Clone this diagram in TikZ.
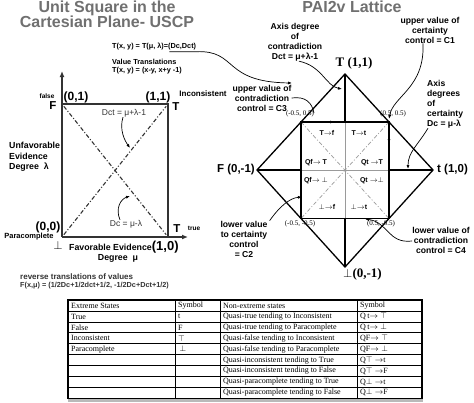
\documentclass[tikz,border=0pt]{standalone}
\usepackage{fontspec}
\setmainfont{Liberation Serif}
\setsansfont{Liberation Sans}
\usetikzlibrary{arrows.meta}
\definecolor{titlegray}{HTML}{707070}
\definecolor{sqline}{HTML}{333333}
\definecolor{ingray}{HTML}{9A9A9A}
\tikzset{
  ttl/.style={font=\sffamily\bfseries\fontsize{16}{18}\selectfont,text=titlegray,inner sep=0pt},
  note/.style={font=\sffamily\bfseries\fontsize{8.6}{10}\selectfont,inner sep=0pt,align=center},
  side/.style={font=\sffamily\bfseries\fontsize{8.8}{10.5}\selectfont,inner sep=0pt},
  form/.style={font=\sffamily\bfseries\fontsize{7.3}{8}\selectfont,inner sep=0pt},
  small/.style={font=\sffamily\bfseries\fontsize{6.5}{7}\selectfont,inner sep=0pt},
  mid/.style={font=\sffamily\fontsize{8.5}{9}\selectfont,text=sqline,inner sep=0pt},
  crd/.style={font=\sffamily\bfseries\fontsize{12}{12}\selectfont,inner sep=0pt},
  vert/.style={font=\sffamily\bfseries\fontsize{11.5}{12}\selectfont,inner sep=0pt},
  vertr/.style={font=\rmfamily\bfseries\fontsize{13}{13}\selectfont,inner sep=0pt},
  corner/.style={font=\rmfamily\fontsize{7}{7}\selectfont,inner sep=0pt},
  inlab/.style={font=\sffamily\bfseries\fontsize{7}{7}\selectfont,inner sep=0pt},
  cell/.style={font=\rmfamily\fontsize{8}{8}\selectfont,inner sep=0pt,anchor=west},
  axis/.style={line width=1.6pt,draw=sqline,-{Latex[length=6pt,width=5pt]}},
  sq/.style={line width=1.6pt,draw=sqline},
  dd/.style={line width=1.1pt,draw=sqline,dash pattern=on 4pt off 2pt on 1pt off 2pt,shorten <=3pt,shorten >=3pt},
  lat/.style={line width=1.3pt},
  inl/.style={line width=0.8pt,draw=ingray},
  ddg/.style={line width=0.7pt,draw=ingray,dash pattern=on 4pt off 2pt on 1pt off 2pt},
  callout/.style={line width=0.7pt,-{Latex[length=4pt,width=3pt]}},
  tabin/.style={line width=0.6pt},
  tabout/.style={line width=1.1pt}
}

\begin{document}
\begin{tikzpicture}[x=1pt,y=-1pt]
\useasboundingbox (0,0) rectangle (474,402);
% Titles
\node[ttl,anchor=base] (tl1) at (107,12.5) {Unit Square in the};
\node[ttl,anchor=base] (tl2) at (107,27.5) {Cartesian Plane- USCP};
\node[ttl,anchor=base] (tr1) at (352,12.5) {PAI2v Lattice};

% Unit square
\coordinate (o) at (62,237);
\coordinate (s01) at (62,104);
\coordinate (s11) at (168,104);
\coordinate (s10) at (168,237);
\coordinate (ytip) at (62,71);
\coordinate (xtip) at (188,237);
\draw[axis] (o) -- (ytip);
\draw[axis] (o) -- (xtip);
\draw[sq] (s01) -- (s11) -- (s10);
\draw[dd] (s01) -- (s10);
\draw[dd] (o) -- (s11);

% Unit square labels
\node[small] (lfalse) at (47,96) {false};
\node[vert] (lF) at (53,106) {F};
\node[crd] (l01) at (76,97) {(0,1)};
\node[crd] (l11) at (158,97) {(1,1)};
\node[vert] (lT) at (176,107) {T};
\node[side,font=\sffamily\bfseries\fontsize{8}{8}\selectfont] (linc) at (203,94) {Inconsistent};
\node[mid] (ldct) at (124,113) {Dct = μ+λ-1};
\coordinate (dctend) at (130,148);
\draw[callout] ([xshift=-1pt]ldct.south) .. controls (119,130) and (125,141) .. (dctend);
\node[side,align=left,anchor=west] (lunf) at (9,157) {Unfavorable\\Evidence\\Degree \ λ};
\node[crd] (l00) at (48,227) {(0,0)};
\node[small,font=\sffamily\bfseries\fontsize{7.5}{8}\selectfont] (lpara) at (29,237) {Paracomplete};
\node[vert] (lbot) at (58,245) {$\bot$};
\node[vert] (lTt) at (177,229) {T};
\node[small] (ltrue) at (194,228) {true};
\node[side,anchor=west] (lfav) at (69,247) {Favorable Evidence{\fontsize{13}{13}\selectfont(1,0)}};
\node[side] (ldeg) at (118,258) {Degree \ μ};
\node[mid] (ldc) at (126,224) {Dc = μ-λ};
\coordinate (dcend) at (130,196);
\draw[callout] ([xshift=-6pt]ldc.north) .. controls (115,208) and (121,199) .. (dcend);

% Translations
\node[form,anchor=west] (ftxy) at (112,47) {T(x, y) = T(μ, λ)=(Dc,Dct)};
\node[form,anchor=west,align=left] (fval) at (112,67) {Value Translations\\T(x, y) = (x-y, x+y -1)};
\coordinate (ftend) at (292,83);
\draw[callout] ([xshift=-27pt,yshift=-1pt]ftxy.south east) -- ([yshift=-1pt]ftxy.south east)
  .. controls (238,50) and (222,82) .. (ftend);

% Lattice vertices
\coordinate (vT) at (345,74);
\coordinate (vt) at (433,170);
\coordinate (vB) at (345,267);
\coordinate (vF) at (257,170);
\coordinate (m1) at (301,122);
\coordinate (m2) at (389,122);
\coordinate (m3) at (389,218.5);
\coordinate (m4) at (301,218.5);
\coordinate (mt) at (345,122);
\coordinate (mb) at (345,218.5);
\coordinate (ml) at (301,170);
\coordinate (mr) at (389,170);
\coordinate (m1a) at (334,122);
\coordinate (m2a) at (389,143);
% Lattice edges
\draw[inl] (mt) -- (mb) (ml) -- (mr);
\draw[ddg] (m1) -- (m3) (m2) -- (m4);
\draw[lat] (vT) -- (vt) -- (vB) -- (vF) -- cycle;
\draw[lat] (m1) -- (m2) -- (m3) -- (m4) -- cycle;
\draw[lat] (vT) -- (mt) (mb) -- (vB) (vF) -- (ml) (mr) -- (vt);
\draw[callout] (m1) -- (m1a);
\draw[callout] (m2) -- (m2a);

% Lattice labels
\node[vertr] (lTop) at (354,63) {T (1,1)};
\node[vert,anchor=east] (lFv) at (255,170) {F (0,-1)};
\node[vert,anchor=west] (ltv) at (437,170) {t (1,0)};
\node[vertr,anchor=north west] (lBv) at (343,268) {$\bot$(0,-1)};
\node[corner] (k1) at (300,114) {(-0.5, 0.5)};
\node[corner] (k2) at (393,114) {(0.5, 0.5)};
\node[corner] (k3) at (300,224) {(-0.5, -0.5)};
\node[corner] (k4) at (381,224) {(0.5, -0.5)};
\node[inlab] (i1) at (327,133) {T$\rightarrow$f};
\node[inlab] (i2) at (359,133) {T$\rightarrow$t};
\node[inlab] (i3) at (316,163) {Qf$\rightarrow$ T};
\node[inlab] (i4) at (372,163) {Qt $\rightarrow$T};
\node[inlab] (i5) at (316,181) {Qf$\rightarrow$ $\bot$};
\node[inlab] (i6) at (372,181) {Qt $\rightarrow$$\bot$};
\node[inlab] (i7) at (327,207) {$\bot$$\rightarrow$f};
\node[inlab] (i8) at (359,207) {$\bot$$\rightarrow$t};

% Callouts
\node[note] (ndct) at (295,42) {Axis degree\\of\\contradiction\\Dct = μ+λ-1};
\coordinate (ndctend) at (342,89);
\draw[callout] ([xshift=4pt]ndct.south) .. controls (322,66) and (326,86) .. (ndctend);
\node[note] (nc1) at (430,30) {upper value of\\certainty\\control = C1};
\coordinate (nc1end) at (389,119);
\draw[callout] ([xshift=-7pt]nc1.south) .. controls (425,88) and (393,96) .. (nc1end);
\node[note,align=left,anchor=west] (ndc) at (427,104) {Axis\\degrees\\of\\certainty\\Dc = μ-λ};
\coordinate (ndcend) at (408,169);
\draw[callout] ([xshift=1pt]ndc.south west) .. controls (418,145) and (408,152) .. (ndcend);
\node[note] (nc3) at (262,98) {upper value of\\contradiction\\control = C3};
\coordinate (nc3end) at (314,113);
\draw[line width=0.7pt] (nc3.east) .. controls (306,96) and (312,103) .. (nc3end);
\node[note] (nc2) at (244,239) {lower value\\to certainty\\control\\= C2};
\coordinate (nc2end) at (302,197);
\draw[callout] ([xshift=2pt]nc2.north east) .. controls (280,206) and (290,198) .. (nc2end);
\node[note] (nc4) at (441,240) {lower value of\\contradiction\\control = C4};
\coordinate (nc4end) at (365,219);
\draw[callout] ([yshift=-1pt]nc4.west) .. controls (388,244) and (388,222) .. (nc4end);

% Reverse translations
\node[form,anchor=west,text=sqline,font=\sffamily\bfseries\fontsize{8}{8}\selectfont] (rev) at (20,277) {reverse translations of values};
\node[form,anchor=west,text=sqline] (revf) at (20,286) {F(x,μ) = (1/2Dc+1/2dct+1/2, -1/2Dc+Dct+1/2)};

% Table
\fill[gray!55] (68,399) rectangle (423,402);
\foreach \k in {1,...,8}
  \draw[tabin] (68,{300+10.9*\k}) -- (422,{300+10.9*\k});
\foreach \xx in {175,220,357}
  \draw[tabin] (\xx,300) -- (\xx,398.1);
\draw[tabout] (68,300) rectangle (422,398.1);
\foreach \i/\ca/\cb/\cc/\cd in {
  0/Extreme States/Symbol/Non-extreme states/Symbol,
  1/True/t/Quasi-true tending to Inconsistent/Q\,t$\rightarrow\top$,
  2/False/F/Quasi-true tending to Paracomplete/Q\,t$\rightarrow\bot$,
  3/Inconsistent/$\top$/Quasi-false tending to Inconsistent/QF$\rightarrow\top$,
  4/Paracomplete/\,$\bot$/Quasi-false tending to Paracomplete/QF$\rightarrow\bot$,
  5/{}/{}/Quasi-inconsistent tending to True/Q$\top\rightarrow$t,
  6/{}/{}/Quasi-inconsistent tending to False/Q$\top\rightarrow$F,
  7/{}/{}/Quasi-paracomplete tending to True/Q$\bot\rightarrow$t,
  8/{}/{}/Quasi-paracomplete tending to False/Q$\bot\rightarrow$F}{
  \pgfmathsetmacro\ry{300+10.9*\i+5.6}
  \node[cell] (ea\i) at (71,\ry) {\ca};
  \node[cell] (eb\i) at (178,\ry) {\cb};
  \node[cell] (ec\i) at (223,\ry) {\cc};
  \node[cell] (ed\i) at (360,\ry) {\cd};
}
\end{tikzpicture}
\end{document}
